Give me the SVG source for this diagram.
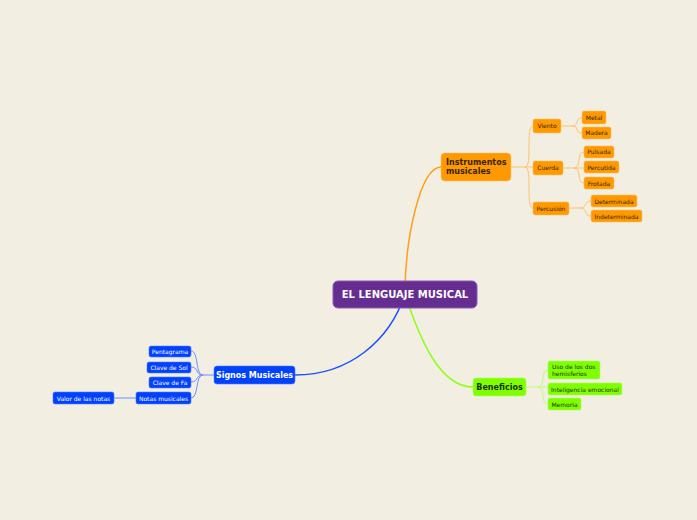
<svg xmlns="http://www.w3.org/2000/svg" width="697" height="520" viewBox="0 0 697 520">
<style>
text{font-family:Verdana,"DejaVu Sans",sans-serif}
.s{font-size:6px}
.o rect{fill:#ff9900;stroke:#fbc36a;stroke-width:0.6}
.o text{fill:#3a2400}
.b rect{fill:#0040ff;stroke:#4d7dff;stroke-width:0.6}
.b text{fill:#fff}
.g rect{fill:#80ff00;stroke:#a6ff55;stroke-width:0.6}
.g text{fill:#1a3300}
.c path{fill:none}
</style>
<rect width="697" height="520" fill="#f2efe2"/>
<g class="c">
<path d="M405 294 C405 240 420 167 441 167" stroke="#ff9f1a" stroke-width="1.5"/>
<path d="M405 294 C390 340 350 375 295 375" stroke="#1a50ff" stroke-width="1.5"/>
<path d="M405 294 C420 340 440 387 473 387" stroke="#8cff1a" stroke-width="1.5"/>
<g stroke="#fbc36a" stroke-width="1">
<path d="M511 167 H525 M525 167 C533 167 525 126 533 126 M525 167 H533 M525 167 C533 167 525 208 533 208"/>
<path d="M561 126 H572 C580 126 574 118 582 118 M572 126 C580 126 574 133 582 133"/>
<path d="M563 168 H574 C582 168 576 152 584 152 M574 168 H584 M574 168 C582 168 576 183 584 183"/>
<path d="M569 208 H580 C588 208 583 201 591 201 M580 208 C588 208 583 216 591 216"/>
</g>
<g stroke="#6b8cff" stroke-width="1">
<path d="M214 375 H203 C195 375 199 351 191 351 M203 375 C195 375 199 367 191 367 M203 375 C195 375 199 382 191 382 M203 375 C195 375 199 398 191 398"/>
<path d="M136 398 H114"/>
</g>
<g stroke="#b8ff7a" stroke-width="1">
<path d="M526 387 H538 C546 387 540 370 548 370 M538 387 H548 M538 387 C546 387 540 404 548 404"/>
</g>
</g>
<g id="central"><rect x="333" y="281" width="144" height="27" rx="5" fill="#662d91" stroke="#8a5ab3"/><text x="405" y="298" fill="#fff" font-size="10" font-weight="bold" text-anchor="middle">EL LENGUAJE MUSICAL</text></g>
<g id="instrumentos" class="o"><rect x="441" y="153" width="70" height="28" rx="4"/><text x="446" y="165" font-size="8" font-weight="bold" fill="#111">Instrumentos</text><text x="446" y="174" font-size="8" font-weight="bold" fill="#111">musicales</text></g>
<g id="viento" class="o"><rect x="533" y="119" width="28" height="14" rx="2"/><text class="s" x="547" y="128" text-anchor="middle">Viento</text></g>
<g id="metal" class="o"><rect x="582" y="111" width="24" height="13" rx="2"/><text class="s" x="594" y="120" text-anchor="middle">Metal</text></g>
<g id="madera" class="o"><rect x="582" y="127" width="29" height="12" rx="2"/><text class="s" x="596.5" y="135" text-anchor="middle">Madera</text></g>
<g id="cuerda" class="o"><rect x="533" y="161" width="30" height="14" rx="2"/><text class="s" x="548" y="170" text-anchor="middle">Cuerda</text></g>
<g id="pulsada" class="o"><rect x="584" y="146" width="30" height="12" rx="2"/><text class="s" x="599" y="154" text-anchor="middle">Pulsada</text></g>
<g id="percutida" class="o"><rect x="584" y="161" width="35" height="12" rx="2"/><text class="s" x="601.5" y="169.5" text-anchor="middle">Percutida</text></g>
<g id="frotada" class="o"><rect x="584" y="177" width="30" height="12" rx="2"/><text class="s" x="599" y="185.5" text-anchor="middle">Frotada</text></g>
<g id="percusion" class="o"><rect x="533" y="202" width="36" height="13" rx="2"/><text class="s" x="551" y="211" text-anchor="middle">Percusión</text></g>
<g id="determinada" class="o"><rect x="591" y="195" width="46" height="12" rx="2"/><text class="s" x="614" y="203.5" text-anchor="middle">Determinada</text></g>
<g id="indeterminada" class="o"><rect x="591" y="210" width="51" height="12" rx="2"/><text class="s" x="616.5" y="218.5" text-anchor="middle">Indeterminada</text></g>
<g id="signos" class="b"><rect x="214" y="366" width="81" height="18" rx="3"/><text x="254.5" y="378" font-size="8" font-weight="bold" text-anchor="middle">Signos Musicales</text></g>
<g id="pentagrama" class="b"><rect x="149" y="346" width="42" height="11" rx="2"/><text class="s" x="170" y="354" text-anchor="middle">Pentagrama</text></g>
<g id="clavesol" class="b"><rect x="147" y="362" width="44" height="11" rx="2"/><text class="s" x="169" y="370" text-anchor="middle">Clave de Sol</text></g>
<g id="clavefa" class="b"><rect x="149" y="377" width="42" height="11" rx="2"/><text class="s" x="170" y="385" text-anchor="middle">Clave de Fa</text></g>
<g id="notas" class="b"><rect x="136" y="392" width="55" height="12" rx="2"/><text class="s" x="163.5" y="400.5" text-anchor="middle">Notas musicales</text></g>
<g id="valor" class="b"><rect x="53" y="392" width="61" height="12" rx="2"/><text class="s" x="83.5" y="400.5" text-anchor="middle">Valor de las notas</text></g>
<g id="beneficios" class="g"><rect x="473" y="378" width="53" height="18" rx="3"/><text x="499.5" y="390" font-size="8" font-weight="bold" fill="#111" text-anchor="middle">Beneficios</text></g>
<g id="uso" class="g"><rect x="548" y="361" width="52" height="18" rx="2"/><text class="s" x="552" y="369">Uso de los dos</text><text class="s" x="552" y="376">hemisferios</text></g>
<g id="inteligencia" class="g"><rect x="548" y="383" width="74" height="12" rx="2"/><text class="s" x="585" y="391.5" text-anchor="middle">Inteligencia emocional</text></g>
<g id="memoria" class="g"><rect x="548" y="398" width="33" height="12" rx="2"/><text class="s" x="564.5" y="406.5" text-anchor="middle">Memoria</text></g>
</svg>
